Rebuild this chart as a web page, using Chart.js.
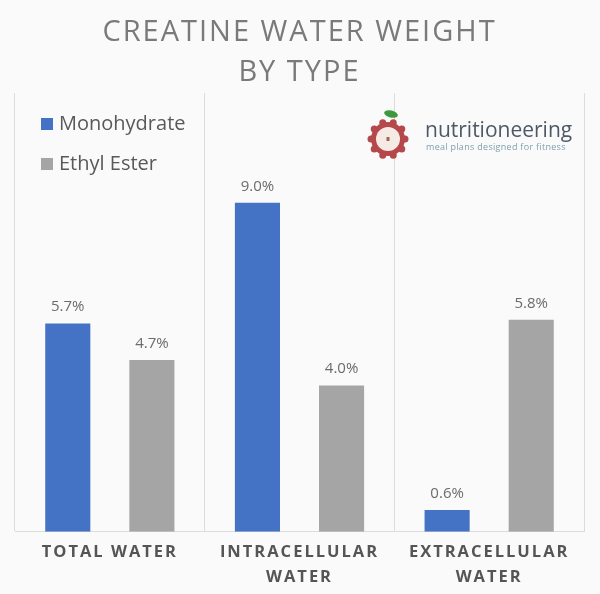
<!DOCTYPE html>
<html>
<head>
<meta charset="utf-8">
<script src="https://cdn.jsdelivr.net/npm/chart.js@4.4.1/dist/chart.umd.min.js"></script>
<style>
  body { margin: 0; background: #fafafa; }
  canvas { display: block; }
</style>
</head>
<body>
<canvas id="chart" width="600" height="594"></canvas>
<script>
// chart data
const categories = [['TOTAL WATER'], ['INTRACELLULAR', 'WATER'], ['EXTRACELLULAR', 'WATER']];
const monohydrate = [5.7, 9.0, 0.6];
const ethylEster = [4.7, 4.0, 5.8];
const seriesNames = ['Monohydrate', 'Ethyl Ester'];

const BLUE = '#4472c4';
const GRAY = '#a5a5a5';

// letter spacing for title and tick labels
const spacingPlugin = {
  id: 'spacing',
  beforeDraw(chart) { chart.ctx.letterSpacing = '2px'; },
  afterDraw(chart) { chart.ctx.letterSpacing = '0px'; }
};

// value labels above the bars
const valueLabels = {
  id: 'valueLabels',
  afterDatasetsDraw(chart) {
    const ctx = chart.ctx;
    ctx.save();
    ctx.letterSpacing = '0px';
    ctx.font = '15px "Open Sans", sans-serif';
    ctx.fillStyle = '#6b6b6b';
    ctx.textAlign = 'center';
    ctx.textBaseline = 'bottom';
    chart.data.datasets.forEach((ds, i) => {
      chart.getDatasetMeta(i).data.forEach((bar, j) => {
        ctx.fillText(ds.data[j].toFixed(1) + '%', bar.x, bar.y - 9);
      });
    });
    ctx.restore();
  }
};

// vertical legend inside the plot area
const sideLegend = {
  id: 'sideLegend',
  afterDraw(chart) {
    const ctx = chart.ctx;
    ctx.save();
    ctx.letterSpacing = '0px';
    ctx.font = '20px "Open Sans", sans-serif';
    ctx.textBaseline = 'middle';
    chart.data.datasets.forEach((ds, i) => {
      const y = 124 + i * 40;
      ctx.fillStyle = ds.backgroundColor;
      ctx.fillRect(41, y - 6, 12, 12);
      ctx.fillStyle = '#595959';
      ctx.fillText(ds.label, 59, y);
    });
    ctx.restore();
  }
};

// nutritioneering logo, top right
const logo = {
  id: 'logo',
  afterDraw(chart) {
    const ctx = chart.ctx;
    const cx = 388, cy = 139;
    ctx.save();
    ctx.letterSpacing = '0px';
    // gear
    ctx.fillStyle = '#b5484b';
    for (let k = 0; k < 10; k++) {
      const a = k * Math.PI / 5;
      ctx.beginPath();
      ctx.arc(cx + Math.cos(a) * 17, cy + Math.sin(a) * 17, 3.5, 0, Math.PI * 2);
      ctx.fill();
    }
    ctx.beginPath();
    ctx.arc(cx, cy, 17, 0, Math.PI * 2);
    ctx.fill();
    ctx.fillStyle = '#f6ebe4';
    ctx.beginPath();
    ctx.arc(cx, cy, 12, 0, Math.PI * 2);
    ctx.fill();
    ctx.fillStyle = '#9a6a50';
    ctx.fillRect(cx - 1.5, cy - 2, 3, 4);
    // leaf
    ctx.fillStyle = '#3c9a3c';
    ctx.beginPath();
    ctx.ellipse(cx + 3, cy - 25, 7, 3.5, 0.25, 0, Math.PI * 2);
    ctx.fill();
    // text
    ctx.fillStyle = '#4d5a66';
    ctx.font = '21px "Open Sans", sans-serif';
    ctx.textBaseline = 'alphabetic';
    ctx.fillText('nutritioneering', 425, 137);
    ctx.fillStyle = '#7fa0ad';
    ctx.font = '9px "Open Sans", sans-serif';
    ctx.letterSpacing = '0.3px';
    ctx.fillText('meal plans designed for fitness', 426, 150);
    ctx.restore();
  }
};

new Chart(document.getElementById('chart').getContext('2d'), {
  type: 'bar',
  data: {
    labels: categories,
    datasets: [{
      label: seriesNames[0],
      data: monohydrate,
      backgroundColor: BLUE
    }, {
      label: seriesNames[1],
      data: ethylEster,
      backgroundColor: GRAY
    }]
  },
  options: {
    responsive: false,
    animation: false,
    categoryPercentage: 0.887,
    barPercentage: 0.536,
    layout: {
      padding: { left: 15, right: 16, top: 10, bottom: -4 }
    },
    plugins: {
      legend: { display: false },
      tooltip: { enabled: false },
      title: {
        display: true,
        text: ['CREATINE WATER WEIGHT', 'BY TYPE'],
        color: '#7a7a7a',
        font: { family: '"Open Sans", sans-serif', size: 29, weight: 'normal', lineHeight: 1.38 },
        padding: { top: 3, bottom: 0 }
      }
    },
    scales: {
      x: {
        grid: { color: '#dcdcdc', drawTicks: false, offset: true },
        border: { color: '#dcdcdc' },
        ticks: {
          color: '#555555',
          padding: 8,
          maxRotation: 0,
          font: { family: '"Open Sans", sans-serif', size: 16.5, weight: 'bold', lineHeight: 1.52 }
        }
      },
      y: {
        display: false,
        min: 0,
        max: 12
      }
    }
  },
  plugins: [spacingPlugin, valueLabels, sideLegend, logo]
});
</script>
</body>
</html>
